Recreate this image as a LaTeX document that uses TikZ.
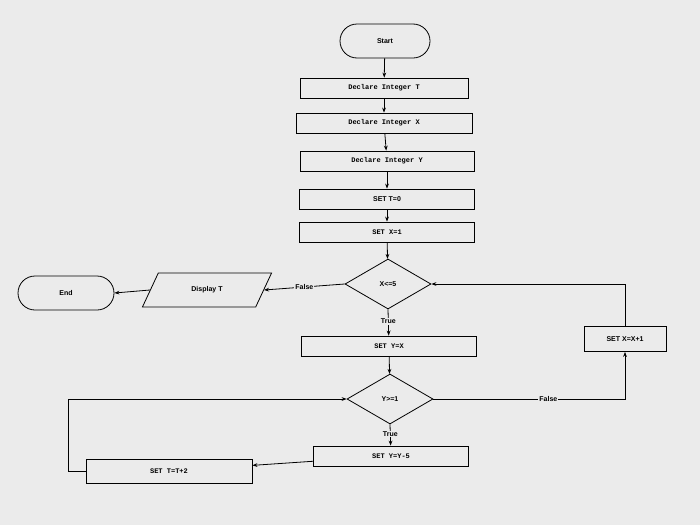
\documentclass[tikz,border=0pt]{standalone}
\usepackage{fontspec}
\setmainfont{Liberation Sans}
\newfontfamily\monof{Liberation Mono}
\usetikzlibrary{shapes.geometric,arrows.meta}
\begin{document}
\begin{tikzpicture}[x=1pt,y=-1pt,
  box/.style={draw,thick,minimum height=20pt,inner sep=1pt,font=\bfseries\scriptsize},
  mbox/.style={box,font=\monof\bfseries\scriptsize},
  term/.style={draw,thick,rounded corners=17pt,minimum width=90pt,minimum height=34pt,font=\bfseries\scriptsize},
  dec/.style={draw,thick,diamond,aspect=1.7,minimum width=86pt,minimum height=50pt,inner sep=0pt,font=\bfseries\scriptsize},
  lab/.style={font=\bfseries\scriptsize,fill=black!8,inner sep=1pt},
  arr/.style={thick,-{Stealth[length=5pt]}}]
\fill[black!8] (0,0) rectangle (700,525);
\useasboundingbox (0,0) rectangle (700,525);
\node[term] (start) at (385,41) {Start};
\node[mbox,minimum width=168pt] (dt) at (384,88) {Declare Integer T};
\node[mbox,minimum width=176pt] (dx) at (384,123) {Declare Integer X};
\node[mbox,minimum width=174pt] (dy) at (387,161) {Declare Integer Y};
\node[box,minimum width=175pt] (t0) at (387,199) {SET T=0};
\node[mbox,minimum width=175pt] (x1) at (387,232) {SET X=1};
\node[dec] (d1) at (388,284) {X<=5};
\node[draw,thick,trapezium,trapezium left angle=65,trapezium right angle=115,minimum width=100pt,minimum height=34pt,font=\bfseries\scriptsize] (disp) at (207,290) {Display T};
\node[term,minimum width=96pt] (end) at (66,293) {End};
\node[mbox,minimum width=175pt] (yx) at (389,346) {SET Y=X};
\node[dec] (d2) at (390,399) {Y>=1};
\node[mbox,minimum width=155pt] (y5) at (391,456) {SET Y=Y-5};
\node[mbox,minimum width=166pt,minimum height=24pt] (t2) at (169,471) {SET T=T+2};
\node[box,minimum width=82pt,minimum height=25pt] (xp) at (625,339) {SET X=X+1};
\draw[arr] (start) -- (dt);
\draw[arr] (dt) -- (dx);
\draw[arr] (dx) -- (dy);
\draw[arr] (dy) -- (t0);
\draw[arr] (t0) -- (x1);
\draw[arr] (x1) -- (d1);
\draw[arr] (d1.south) -- node[lab,pos=0.45]{True} (yx);
\draw[arr] (yx) -- (d2);
\draw[arr] (d2.south) -- node[lab,pos=0.45]{True} (y5);
\draw[arr] (y5) -- (t2);
\draw[arr] (t2.west) -- (68,471) -- (68,399) -- (d2.west);
\draw[arr] (d2.east) -- node[lab,pos=0.6]{False} (xp.south |- d2.east) -- (xp.south);
\draw[arr] (xp.north) -- (xp.north |- d1.east) -- (d1.east);
\draw[arr] (d1.west) -- node[lab]{False} (disp.east);
\draw[arr] (disp.west) -- (end.east);
\end{tikzpicture}
\end{document}
